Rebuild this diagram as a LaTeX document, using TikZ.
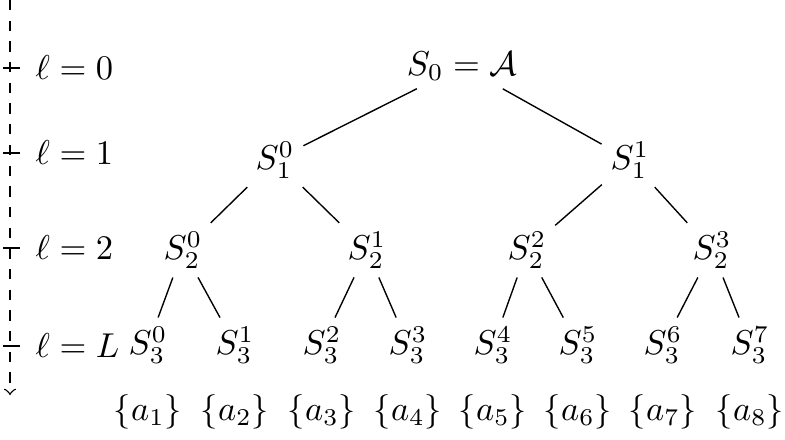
\documentclass[tikz,border=0pt]{standalone}
\begin{document}
\begin{tikzpicture}[x=0.29pt,y=-0.29pt,every node/.style={inner sep=2pt},
 edge/.style={shorten >=0.5pt,shorten <=0.5pt}]
\useasboundingbox (0,0) rectangle (785,439);
\draw[dashed,->] (10,0) -- (10,395);
\foreach \y/\t in {68/0,153/1,248/2,346/L}{
 \draw (3,\y) -- (20,\y);
 \node[anchor=west] at (28,\y) {$\ell=\t$};
}
\node (r) at (462,66) {$S_0=\mathcal{A}$};
\node (a) at (275,160) {$S_1^0$};
\node (b) at (630,160) {$S_1^1$};
\node (c0) at (183,250) {$S_2^0$};
\node (c1) at (367,250) {$S_2^1$};
\node (c2) at (527,250) {$S_2^2$};
\node (c3) at (712,250) {$S_2^3$};
\foreach \i/\x in {0/148,1/235,2/322,3/408,4/493,5/578,6/663,7/750}{
 \node (d\i) at (\x,345) {$S_3^{\i}$};
 \pgfmathtruncatemacro{\k}{\i+1}
 \node (e\i) at (\x,412) {$\{a_{\k}\}$};
}
\draw[edge] (r) -- (a); \draw[edge] (r) -- (b);
\draw[edge] (a) -- (c0); \draw[edge] (a) -- (c1);
\draw[edge] (b) -- (c2); \draw[edge] (b) -- (c3);
\draw[edge] (c0) -- (d0); \draw[edge] (c0) -- (d1);
\draw[edge] (c1) -- (d2); \draw[edge] (c1) -- (d3);
\draw[edge] (c2) -- (d4); \draw[edge] (c2) -- (d5);
\draw[edge] (c3) -- (d6); \draw[edge] (c3) -- (d7);
\end{tikzpicture}
\end{document}
